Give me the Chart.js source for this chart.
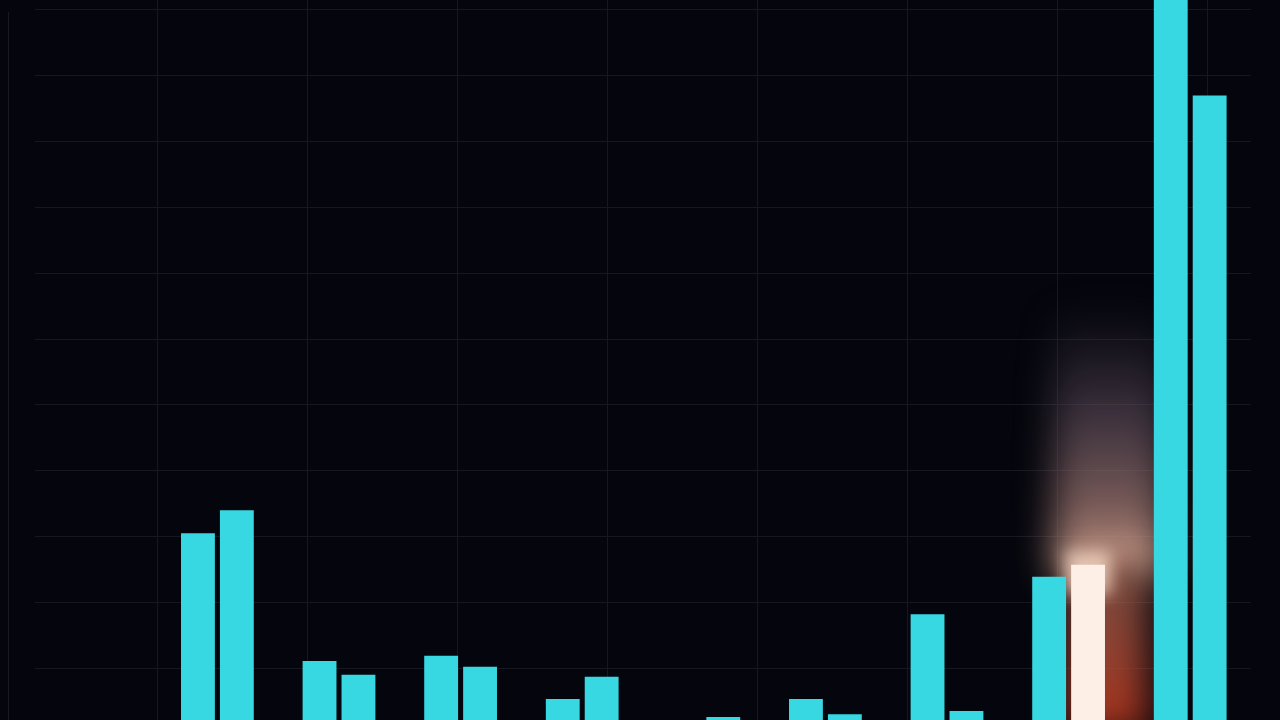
<!DOCTYPE html>
<html>
<head>
<meta charset="utf-8">
<script src="https://cdn.jsdelivr.net/npm/chart.js@4.4.1/dist/chart.umd.min.js"></script>
<style>
  html, body { margin: 0; padding: 0; background: #05060d; overflow: hidden; width: 1280px; height: 720px; }
  #edge { position: absolute; left: 8px; top: 12px; width: 1px; height: 708px; background: #171923; }
  #wrap { position: absolute; left: 0; top: -56px; width: 1280px; height: 790px; }
</style>
</head>
<body>
<div id="edge"></div>
<div id="wrap"><canvas id="chart"></canvas></div>
<script>
  // values (one unit = one tenth of a grid step)
  const categories = ['G0', 'G1', 'G2', 'G3', 'G4', 'G5', 'G6', 'G7', 'G8', 'G9'];
  const seriesA = [0, 30.5, 11.1, 11.9, 5.3, 0, 5.3, 18.2, 23.9, 116];
  const seriesB = [0, 34.0, 9.0, 10.2, 8.7, 2.6, 3.0, 3.5, 25.7, 97.0];
  const highlightIndex = 8;
  const yRange = [0, 120];
  const yStep = 10;
  const columnRange = [0.18, 8.287];
  const columnTicks = [1, 2, 3, 4, 5, 6, 7, 8];

  const cyan = '#38d8e2';
  const cream = '#fdeee6';
  const gridColor = '#161821';

  // soft light bloom around the highlighted bar
  const glowPlugin = {
    id: 'glow',
    beforeDatasetsDraw(chart) {
      const bar = chart.getDatasetMeta(1).data[highlightIndex];
      if (!bar) return;
      const { x, y, base, width } = bar.getProps(['x', 'y', 'base', 'width'], true);
      const ctx = chart.ctx;
      ctx.save();

      ctx.filter = 'blur(18px)';
      let g = ctx.createLinearGradient(0, y - 260, 0, y + 10);
      g.addColorStop(0, 'rgba(80,65,85,0)');
      g.addColorStop(0.4, 'rgba(105,85,100,0.55)');
      g.addColorStop(0.8, 'rgba(175,130,120,0.75)');
      g.addColorStop(1, 'rgba(240,190,165,0.95)');
      ctx.fillStyle = g;
      ctx.fillRect(x - 34, y - 260, 110, 270);

      g = ctx.createLinearGradient(0, y, 0, base);
      g.addColorStop(0, 'rgba(175,110,90,0.65)');
      g.addColorStop(1, 'rgba(180,50,25,0.95)');
      ctx.fillStyle = g;
      ctx.fillRect(x - width / 2 - 4, y, width + 46, base - y);

      ctx.filter = 'blur(8px)';
      ctx.fillStyle = 'rgba(255,225,205,0.75)';
      ctx.fillRect(x - width / 2 - 6, y - 14, width + 12, 44);
      ctx.restore();
    }
  };

  new Chart(document.getElementById('chart').getContext('2d'), {
    type: 'bar',
    data: {
      labels: categories,
      datasets: [
        { data: seriesA, backgroundColor: cyan, borderWidth: 0 },
        {
          data: seriesB,
          backgroundColor: ctx => ctx.dataIndex === highlightIndex ? cream : cyan,
          borderWidth: 0
        }
      ]
    },
    options: {
      responsive: true,
      maintainAspectRatio: false,
      animation: false,
      layout: { padding: { left: 35, right: 29, top: 0, bottom: 0 } },
      plugins: { legend: { display: false }, tooltip: { enabled: false } },
      datasets: { bar: { barPercentage: 0.87, categoryPercentage: 0.64 } },
      scales: {
        x: {
          ticks: { display: false },
          grid: { display: false },
          border: { display: false },
          afterFit: s => { s.height = 0; }
        },
        xCols: {
          type: 'linear',
          axis: 'x',
          position: 'bottom',
          offset: false,
          bounds: 'data',
          min: columnRange[0],
          max: columnRange[1],
          ticks: { display: false },
          grid: { color: gridColor, drawTicks: false, offset: false },
          border: { display: false },
          afterBuildTicks: s => { s.ticks = columnTicks.map(v => ({ value: v })); },
          afterFit: s => { s.height = 0; }
        },
        y: {
          min: yRange[0],
          max: yRange[1],
          ticks: { display: false, stepSize: yStep },
          grid: { color: gridColor, drawTicks: false },
          border: { display: false },
          afterFit: s => { s.width = 0; }
        }
      }
    },
    plugins: [glowPlugin]
  });
</script>
</body>
</html>
